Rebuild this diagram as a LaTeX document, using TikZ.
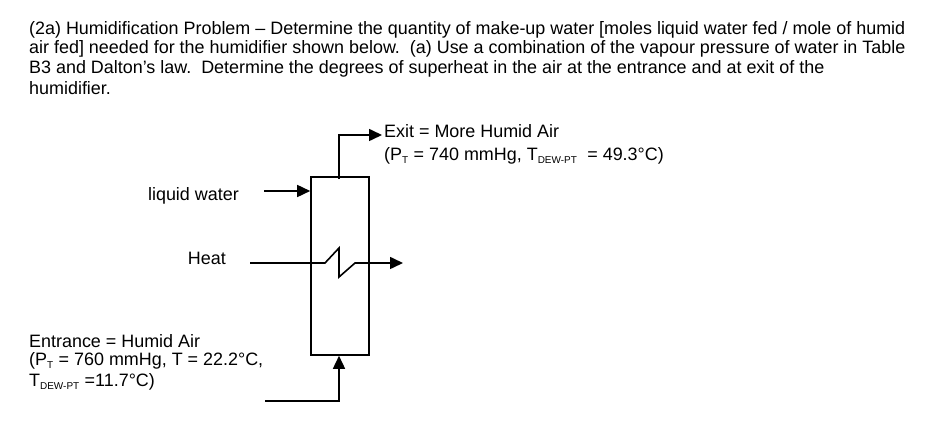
\documentclass[tikz,border=0pt]{standalone}
\usepackage{fontspec}
\setmainfont{Liberation Sans}
\usetikzlibrary{arrows.meta}
\begin{document}
\begin{tikzpicture}[x=1bp,y=-1bp,
  txt/.style={anchor=west,inner sep=0pt,font=\fontsize{18}{20}\selectfont},
  ln/.style={line width=1.6bp},
  arr/.style={ln,-{Triangle[length=13bp,width=12bp]}}]
\useasboundingbox (0,0) rectangle (948,446);
\newcommand\sub[1]{\textsubscript{\fontsize{10}{10}\selectfont #1}}
\node[txt] (t1) at (29,30) {(2a) Humidification Problem -- Determine the quantity of make-up water [moles liquid water fed / mole of humid};
\node[txt] (t2) at (29,49) {air fed] needed for the humidifier shown below.\ \ (a) Use a combination of the vapour pressure of water in Table};
\node[txt] (t3) at (29,69) {B3 and Dalton’s law.\ \ Determine the degrees of superheat in the air at the entrance and at exit of the};
\node[txt] (t4) at (29,88) {humidifier.};
\node[draw,ln,minimum width=58bp,minimum height=178bp,inner sep=0pt] (box) at (340,266) {};
\coordinate (ex0) at (339,179);
\coordinate (ex1) at (339,135);
\coordinate (ex2) at (382,135);
\draw[arr] (ex0) -- (ex1) -- (ex2);
\node[txt] (exit) at (384,131) {Exit = More Humid Air};
\node[txt] (exit2) at (384,156) {(P\sub{T} = 740 mmHg, T\sub{DEW-PT} \ = 49.3°C)};
\node[txt,anchor=east] (lw) at (239,196) {liquid water};
\coordinate (lw0) at (264,191);
\draw[arr] (lw0) -- (box.west |- lw0);
\node[txt,anchor=east] (heat) at (226,258) {Heat};
\coordinate (h0) at (250,263);
\coordinate (h5) at (403,263);
\draw[arr] (h0) -- (325,263) -- (339,248) -- (339,277) -- (355,263) -- (h5);
\node[txt] (e1) at (29,341) {Entrance = Humid Air};
\node[txt] (e2) at (29,361) {(P\sub{T} = 760 mmHg, T = 22.2°C,};
\node[txt] (e3) at (29,382) {T\sub{DEW-PT} =11.7°C)};
\coordinate (en0) at (265,401);
\coordinate (en1) at (339,401);
\draw[arr] (en0) -- (en1) -- (box.south -| en1);
\end{tikzpicture}
\end{document}
